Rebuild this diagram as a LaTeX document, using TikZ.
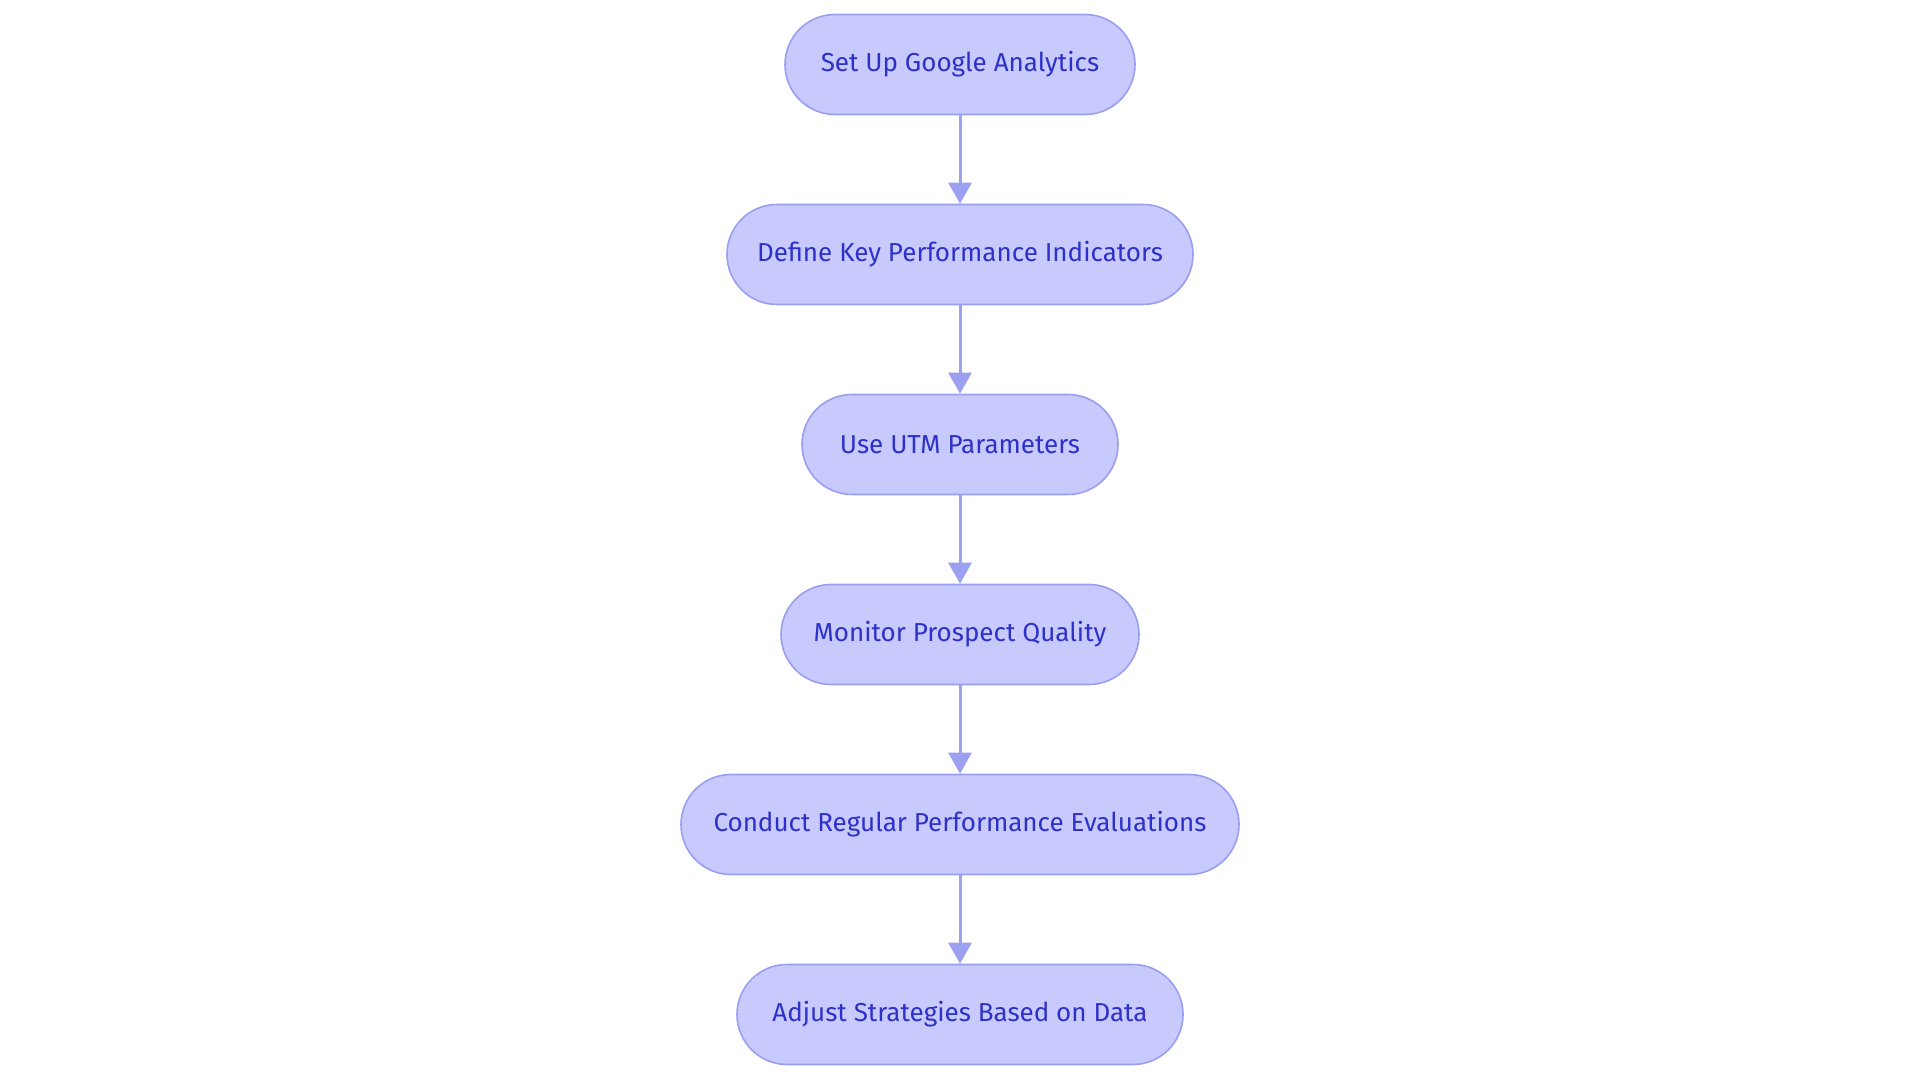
\documentclass[tikz,border=0pt]{standalone}
\usepackage{fontspec}
\setmainfont{Fira Sans}
\usetikzlibrary{arrows.meta}
\definecolor{boxfill}{HTML}{C8C9FC}
\definecolor{boxline}{HTML}{9A9EF0}
\definecolor{boxtext}{HTML}{2E31C8}
\definecolor{arrowc}{HTML}{9CA0F0}
\begin{document}
\begin{tikzpicture}[x=1pt,y=1pt,
  stepbox/.style={draw=boxline, line width=1.6pt, fill=boxfill, rounded corners=50pt,
    minimum height=100pt, inner sep=0pt, text=boxtext,
    font=\fontsize{26}{31}\selectfont},
  flow/.style={draw=arrowc, line width=3pt, -{Triangle[width=23pt,length=21pt]}}]
\useasboundingbox (0,0) rectangle (1920,1083);
\node[stepbox, minimum width=350pt] (n1) at (960,1018.5) {Set Up Google Analytics};
\node[stepbox, minimum width=466pt] (n2) at (960,828.5) {Define Key Performance Indicators};
\node[stepbox, minimum width=316pt] (n3) at (960,638.5) {Use UTM Parameters};
\node[stepbox, minimum width=358pt] (n4) at (960,448.5) {Monitor Prospect Quality};
\node[stepbox, minimum width=558pt] (n5) at (960,258.5) {Conduct Regular Performance Evaluations};
\node[stepbox, minimum width=446pt] (n6) at (960,68.5) {Adjust Strategies Based on Data};
\draw[flow] (n1) -- (n2);
\draw[flow] (n2) -- (n3);
\draw[flow] (n3) -- (n4);
\draw[flow] (n4) -- (n5);
\draw[flow] (n5) -- (n6);
\end{tikzpicture}
\end{document}
